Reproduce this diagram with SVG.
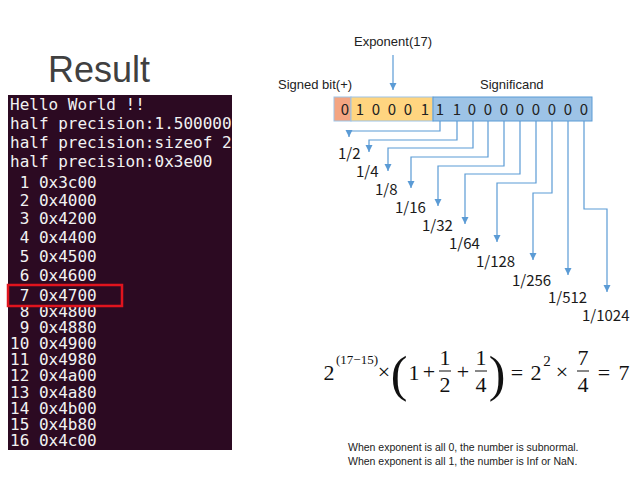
<svg xmlns="http://www.w3.org/2000/svg" width="638" height="479" viewBox="0 0 638 479">
<style>
.t{font-family:"DejaVu Sans Mono",monospace;font-size:16px;fill:#f2f2f2}
.l{font-family:"Noto Sans CJK JP","DejaVu Sans",sans-serif;font-size:15px;fill:#1a1a1a}
.b{font-family:"Noto Sans CJK JP","DejaVu Sans",sans-serif;font-size:15px;fill:#222;text-anchor:middle}
.s{font-family:"Liberation Sans",sans-serif;font-size:12px;fill:#222}
.m{font-family:"Liberation Serif",serif;font-size:22px;fill:#111;text-anchor:middle}
.c{fill:none;stroke:#5b9bd5;stroke-width:1.2}
</style>
<defs><marker id="d" viewBox="0 0 6 6" refX="6" refY="3" markerWidth="6" markerHeight="6" orient="auto"><path d="M0,0L6,3L0,6z" fill="#5b9bd5"/></marker></defs>
<rect width="638" height="479" fill="#fff"/>
<text x="48" y="82" font-family="Liberation Sans,sans-serif" font-size="36" fill="#404040">Result</text>
<g id="terminal">
<rect x="8" y="95" width="224" height="355" fill="#2c0a22"/>
<text class="t" x="10" y="110">Hello World !!</text>
<text class="t" x="10" y="129">half precision:1.500000</text>
<text class="t" x="10" y="148">half precision:sizeof 2</text>
<text class="t" x="10" y="167">half precision:0x3e00</text>
<text class="t" x="10" y="188" xml:space="preserve"> 1 0x3c00</text>
<text class="t" x="10" y="206" xml:space="preserve"> 2 0x4000</text>
<text class="t" x="10" y="224" xml:space="preserve"> 3 0x4200</text>
<text class="t" x="10" y="243" xml:space="preserve"> 4 0x4400</text>
<text class="t" x="10" y="262" xml:space="preserve"> 5 0x4500</text>
<text class="t" x="10" y="281" xml:space="preserve"> 6 0x4600</text>
<text class="t" x="10" y="301" xml:space="preserve"> 7 0x4700</text>
<text class="t" x="10" y="317" xml:space="preserve"> 8 0x4800</text>
<text class="t" x="10" y="333" xml:space="preserve"> 9 0x4880</text>
<text class="t" x="10" y="349">10 0x4900</text>
<text class="t" x="10" y="365">11 0x4980</text>
<text class="t" x="10" y="381">12 0x4a00</text>
<text class="t" x="10" y="398">13 0x4a80</text>
<text class="t" x="10" y="414">14 0x4b00</text>
<text class="t" x="10" y="430">15 0x4b80</text>
<text class="t" x="10" y="446">16 0x4c00</text>
<rect x="8" y="285" width="114" height="21" fill="none" stroke="#e0141e" stroke-width="2.5"/>
</g>
<g id="bits">
<rect x="334" y="97" width="17" height="24" fill="#f4a582" stroke="#9dc3e6"/>
<rect x="351" y="97" width="82" height="24" fill="#ffd580" stroke="#9dc3e6"/>
<rect x="433" y="97" width="159" height="24" fill="#9dc3e6" stroke="#5b9bd5"/>
<text class="b" y="115"><tspan x="345">0</tspan><tspan x="360">1</tspan><tspan x="376">0</tspan><tspan x="392">0</tspan><tspan x="408">0</tspan><tspan x="425">1</tspan><tspan x="440">1</tspan><tspan x="457">1</tspan><tspan x="472">0</tspan><tspan x="488">0</tspan><tspan x="504">0</tspan><tspan x="520">0</tspan><tspan x="536">0</tspan><tspan x="552">0</tspan><tspan x="568">0</tspan><tspan x="584">0</tspan></text>
<text x="393" y="46" class="s" style="font-size:13px" text-anchor="middle">Exponent(17)</text>
<text x="278" y="89" class="s" style="font-size:13px">Signed bit(+)</text>
<text x="480" y="89" class="s" style="font-size:13px">Significand</text>
</g>
<g id="connectors">
<path class="c" d="M393,55V90" marker-end="url(#d)"/>
<path class="c" d="M440,121V131H349V137" marker-end="url(#d)"/>
<path class="c" d="M457,121V140H369V152" marker-end="url(#d)"/>
<path class="c" d="M473,121V148H388V171" marker-end="url(#d)"/>
<path class="c" d="M488,121V157H411V188" marker-end="url(#d)"/>
<path class="c" d="M504,121V166H438V206" marker-end="url(#d)"/>
<path class="c" d="M520,121V174H465V224" marker-end="url(#d)"/>
<path class="c" d="M536,121V183H497V242" marker-end="url(#d)"/>
<path class="c" d="M552,121V193H533V260" marker-end="url(#d)"/>
<path class="c" d="M568,121V275" marker-end="url(#d)"/>
<path class="c" d="M584,121V209H607V292" marker-end="url(#d)"/>
</g>
<g id="fractions">
<text class="l" x="338" y="159">1/2</text>
<text class="l" x="356" y="177">1/4</text>
<text class="l" x="375" y="195">1/8</text>
<text class="l" x="395" y="213">1/16</text>
<text class="l" x="422" y="231">1/32</text>
<text class="l" x="449" y="249">1/64</text>
<text class="l" x="476" y="267">1/128</text>
<text class="l" x="512" y="286">1/256</text>
<text class="l" x="548" y="303">1/512</text>
<text class="l" x="582" y="321">1/1024</text>
</g>
<g id="formula">
<text class="m" x="329" y="380">2</text>
<text class="m" x="357" y="364" style="font-size:13px">(17−15)</text>
<text class="m" x="384" y="379">×</text>
<text class="m" x="399" y="391" style="font-size:50px">(</text>
<text class="m" x="414" y="380">1</text>
<text class="m" x="429" y="379">+</text>
<text class="m" x="445" y="365">1</text><line x1="439" y1="371" x2="451" y2="371" stroke="#111"/><text class="m" x="445" y="392">2</text>
<text class="m" x="463" y="379">+</text>
<text class="m" x="481" y="365">1</text><line x1="475" y1="371" x2="487" y2="371" stroke="#111"/><text class="m" x="481" y="392">4</text>
<text class="m" x="497" y="391" style="font-size:50px">)</text>
<text class="m" x="517" y="380">=</text>
<text class="m" x="536" y="380">2</text>
<text class="m" x="547" y="366" style="font-size:15px">2</text>
<text class="m" x="562" y="379">×</text>
<text class="m" x="583" y="365">7</text><line x1="577" y1="371" x2="589" y2="371" stroke="#111"/><text class="m" x="583" y="392">4</text>
<text class="m" x="604" y="380">=</text>
<text class="m" x="624" y="380">7</text>
</g>
<text class="s" x="348" y="451" style="font-size:10.5px">When exponent is all 0, the number is subnormal.</text>
<text class="s" x="348" y="465" style="font-size:10.5px">When exponent is all 1, the number is Inf or NaN.</text>
</svg>
